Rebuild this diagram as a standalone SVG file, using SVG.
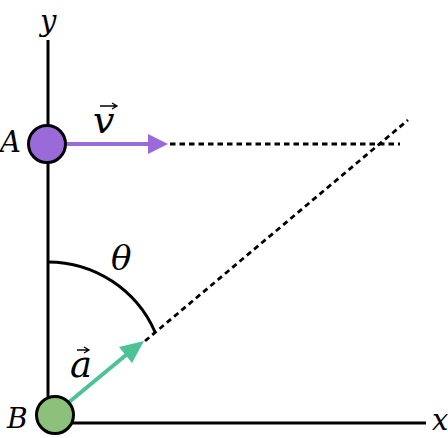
<svg xmlns="http://www.w3.org/2000/svg" width="448" height="438" viewBox="0 0 448 438">
<style>
.ax{stroke:#000;stroke-width:3;fill:none}
.dash{stroke:#000;stroke-width:2.8;stroke-dasharray:5.5 4;fill:none}
.vec{stroke:#000;stroke-width:1.3;fill:none}
text{font-family:'DejaVu Serif',serif;font-style:italic;fill:#000}
</style>
<g id="connectors">
<line class="ax" x1="48" y1="40" x2="48" y2="423"/>
<line class="ax" x1="48" y1="423" x2="426" y2="423"/>
<line class="dash" x1="170" y1="144" x2="400" y2="144"/>
<line class="dash" x1="145" y1="341" x2="408" y2="120"/>
<path class="ax" d="M48,262 A117,117 0 0 1 155,332"/>
<line x1="66" y1="144" x2="148" y2="144" stroke="#9b6ad9" stroke-width="4"/>
<path d="M148,134 L168,144 L148,154 Z" fill="#9b6ad9"/>
<line x1="68" y1="403" x2="126" y2="355" stroke="#4cc296" stroke-width="4"/>
<path d="M119,347 L144,341 L132,363 Z" fill="#4cc296"/>
</g>
<g id="A">
<circle cx="47" cy="144" r="18.5" fill="#9b6ad9" stroke="#000" stroke-width="3"/>
<text x="0" y="152" font-size="29">A</text>
</g>
<g id="B">
<circle cx="55" cy="415" r="18.5" fill="#8dc07a" stroke="#000" stroke-width="3"/>
<text x="7" y="428" font-size="28">B</text>
</g>
<g id="labels">
<text x="40" y="31" font-size="29">y</text>
<text x="432" y="430" font-size="29">x</text>
<text x="111" y="270" font-size="34">θ</text>
<text x="93" y="133" font-size="38">v</text>
<path class="vec" d="M100,106 L116,106 M112,103 L117,106 L112,109"/>
<text x="70" y="377" font-size="37">a</text>
<path class="vec" d="M77,350 L88,350 M84,347 L89,350 L84,353"/>
</g>
</svg>
